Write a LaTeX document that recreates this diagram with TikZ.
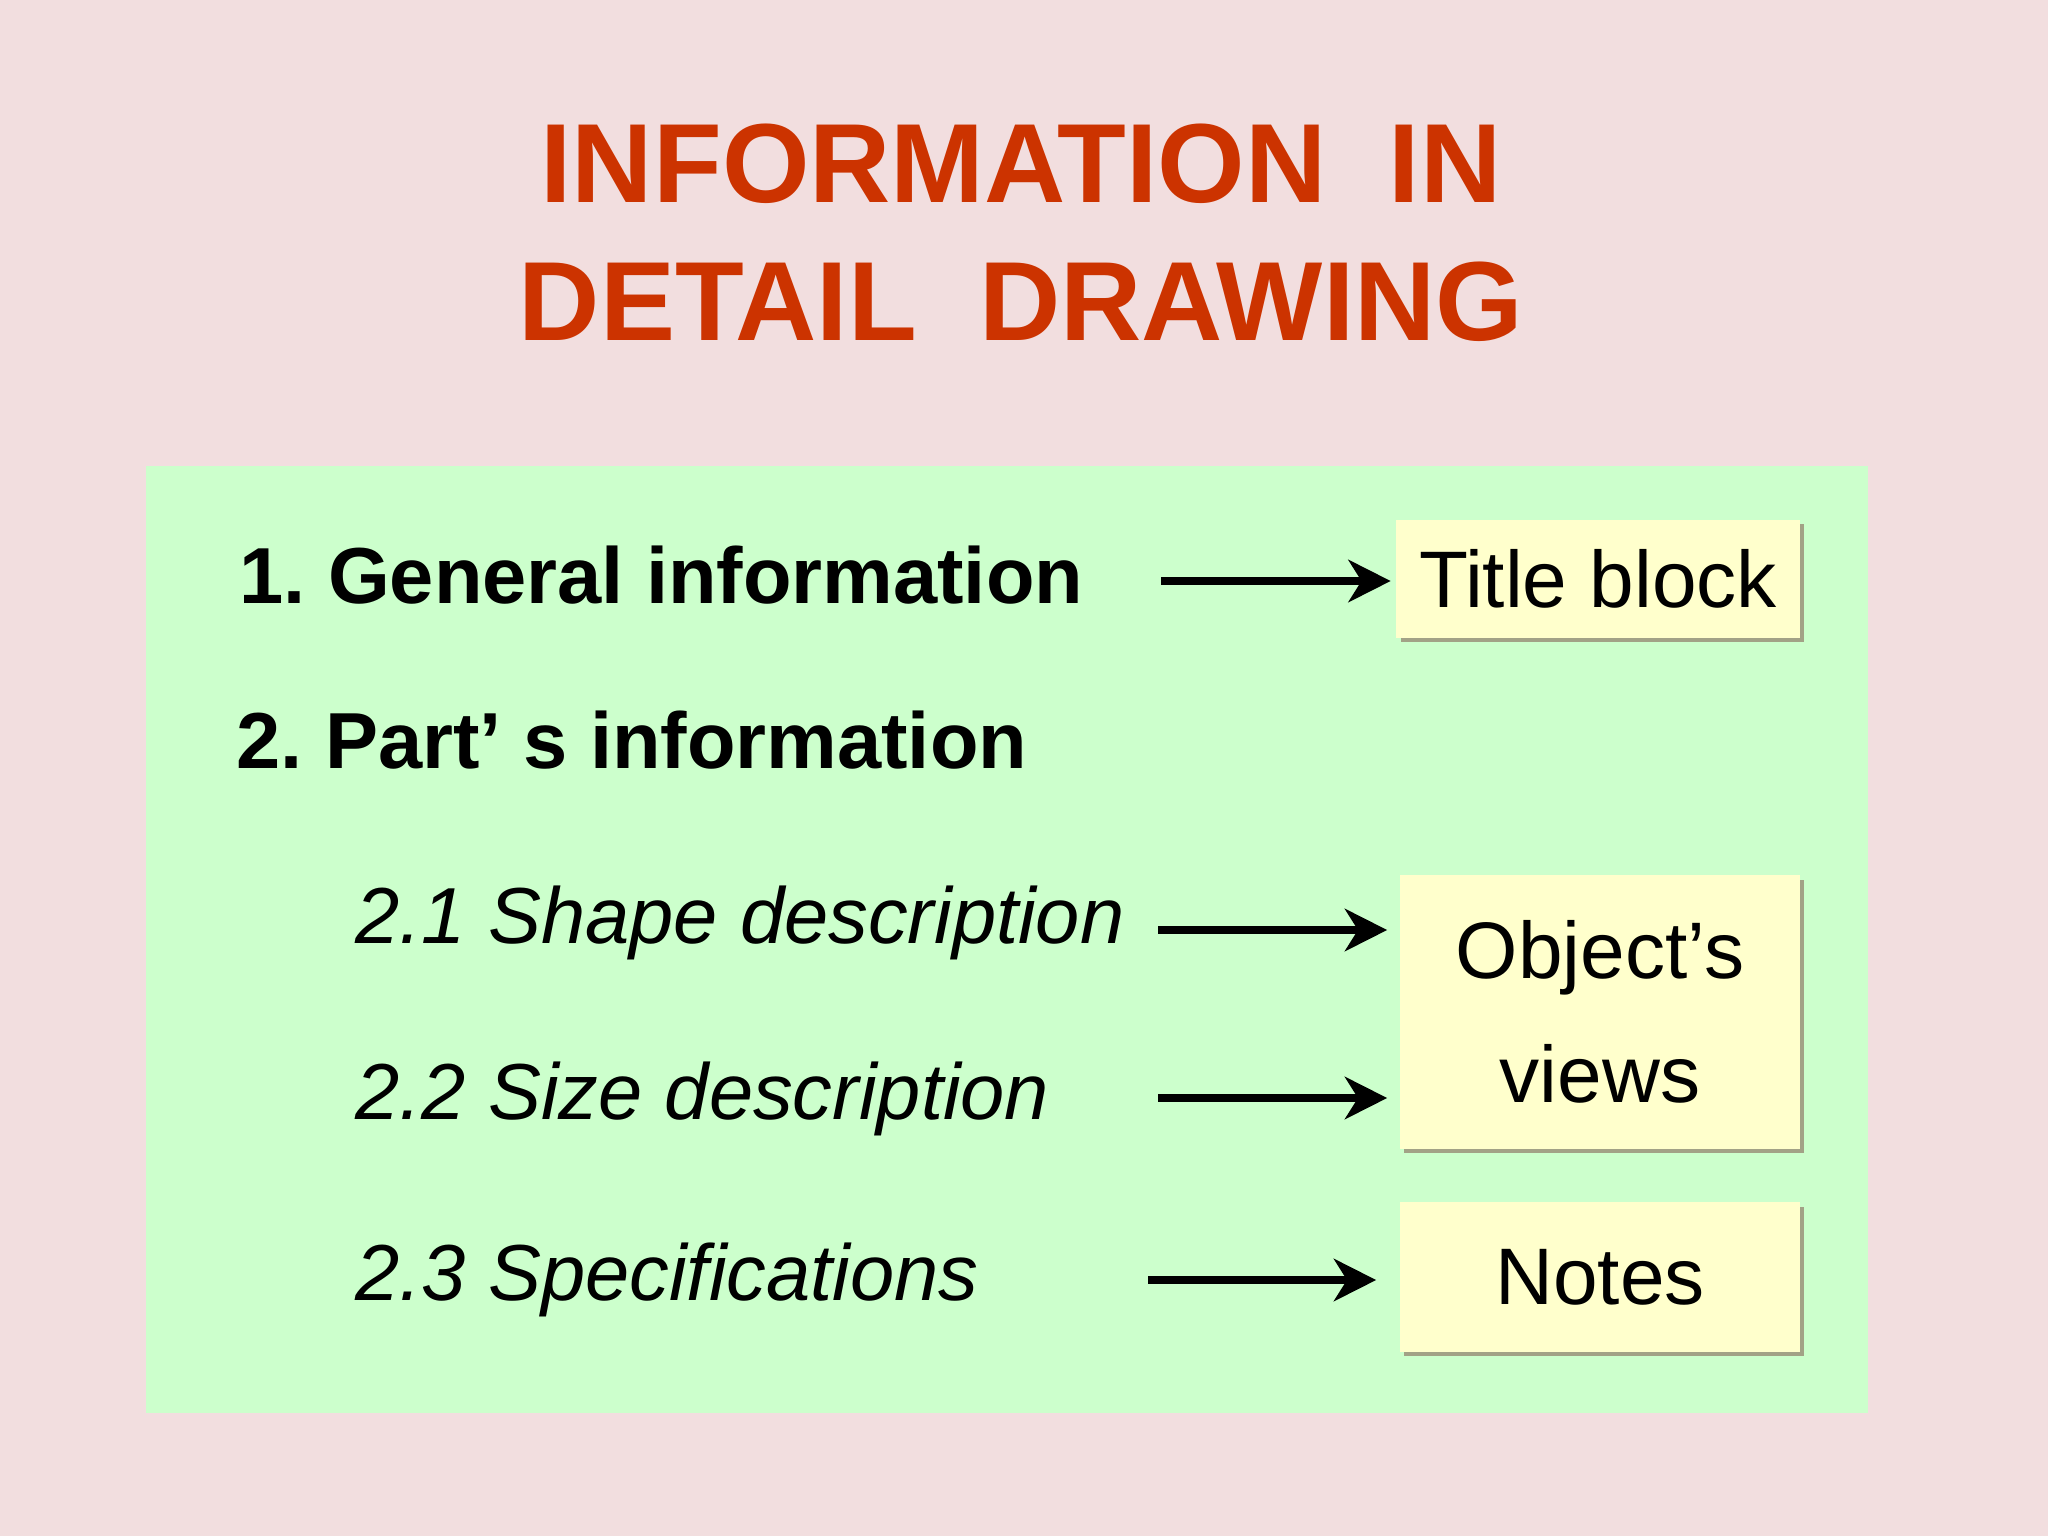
\documentclass[tikz,border=0pt]{standalone}
\usepackage{fontspec}
\setmainfont{Liberation Sans}
\usepackage{xcolor}
\usetikzlibrary{
    arrows.meta,
    shadows,
    calc,
    positioning
}
\definecolor{slidepink}{HTML}{F2DEDF}
\definecolor{panelgreen}{HTML}{CCFFCC}
\definecolor{boxyellow}{HTML}{FFFFCC}
\definecolor{titlered}{HTML}{CC3300}
\definecolor{shadowgray}{HTML}{A2A286}
\frenchspacing

\begin{document}
\begin{tikzpicture}[x=0.01cm, y=-0.01cm,
    heading/.style={anchor=base, inner sep=0, text=titlered, font=\fontsize{32}{38}\selectfont\bfseries},
    item/.style={anchor=base west, inner sep=0, font=\fontsize{22.6}{27}\selectfont\bfseries},
    subitem/.style={anchor=base west, inner sep=0, font=\fontsize{22.6}{27}\selectfont\itshape},
    answer/.style={fill=boxyellow, inner sep=0, align=center, font=\fontsize{22.8}{35.3}\selectfont,
        drop shadow={shadow xshift=1.2pt, shadow yshift=-1.2pt, opacity=1, fill=shadowgray}},
    pointer/.style={line width=2.5pt, -{Stealth[length=12pt, width=12pt, inset=3.7pt]}}]
                        \fill[slidepink] (0, 0) rectangle (2048, 1536);
                        \fill[panelgreen] (146, 466) rectangle (1868, 1413);

                        \node[heading] (head1) at (1021, 202) {INFORMATION\ \ IN};
                        \node[heading] (head2) at (1021, 340) {DETAIL\ \ DRAWING};

                        \node[item] (gen) at (239, 603) {1. General information};
                        \node[item] (part) at (236, 768) {2. Part’ s information};
                        \node[subitem] (shape) at (355, 943) {2.1 Shape description};
                        \node[subitem] (size) at (355, 1119) {2.2 Size description};
                        \node[subitem] (spec) at (355, 1300) {2.3 Specifications};

                        \node[answer, minimum width=4.03cm, minimum height=1.18cm] (tb) at (1598, 579) {Title block};
                        \node[answer, minimum width=4cm, minimum height=2.73cm] (ov) at (1600, 1012) {Object’s\\views};
                        \node[answer, minimum width=4cm, minimum height=1.49cm, text depth=-0.04cm] (notes) at (1600, 1277) {Notes};

                        \coordinate (g1) at (1161, 581);
                        \coordinate (g2) at (1158, 930);
                        \coordinate (g3) at (1158, 1098);
                        \coordinate (g4) at (1148, 1280);

                        \draw[pointer, shorten >=0.05cm] (g1) -- (tb.west |- g1);
                        \draw[pointer, shorten >=0.12cm] (g2) -- (ov.west |- g2);
                        \draw[pointer, shorten >=0.12cm] (g3) -- (ov.west |- g3);
                        \draw[pointer, shorten >=0.23cm] (g4) -- (notes.west |- g4);
                    \end{tikzpicture}
\end{document}
